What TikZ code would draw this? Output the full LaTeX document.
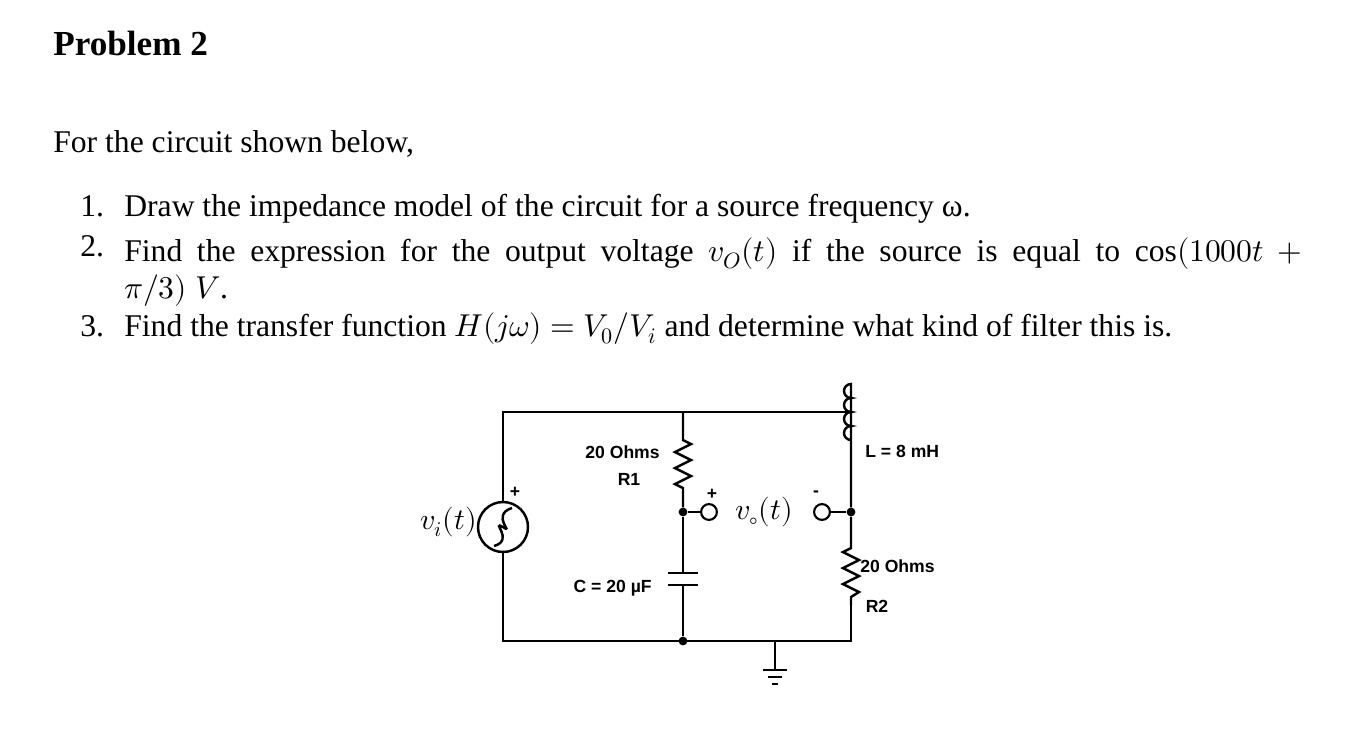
\documentclass[tikz,border=0pt]{standalone}
\usepackage{fontspec}
\setmainfont{Liberation Serif}
\newfontfamily\arialf{Liberation Sans}
\usepackage{unicode-math}
\setmathfont{Latin Modern Math}
\begin{document}
\begin{tikzpicture}[x=0.02cm,y=-0.02cm,
  txt/.style={anchor=base west,inner sep=0pt,font=\fontsize{18}{21.6}\selectfont},
  lab/.style={inner sep=0pt,font=\arialf\bfseries\fontsize{10}{12}\selectfont},
  w/.style={line width=1.4pt},
  dot/.style={circle,fill=black,inner sep=0pt,minimum size=5pt},
  term/.style={circle,draw,line width=1.2pt,fill=white,inner sep=0pt,minimum size=9pt}]
\useasboundingbox (0,0) rectangle (1352,744);
% text
\node[txt,font=\bfseries\fontsize{20}{24}\selectfont] (title) at (53,55) {Problem 2};
\node[txt] (intro) at (53,152) {For the circuit shown below,};
\node[txt] (n1) at (80,216) {1.};
\node[txt] (t1) at (124,216) {Draw the impedance model of the circuit for a source frequency ω.};
\node[txt] (n2) at (80,256) {2.};
\node[txt,anchor=north west,text width=23.55cm,align=justify] (t2) at (124,237) {Find the expression for the output voltage $v_O(t)$ if the source is equal to $\cos(1000t+\linebreak \pi/3)\ V$.};
\node[txt] (n3) at (80,336) {3.};
\node[txt] (t3) at (124,336) {Find the transfer function $H(j\omega)=V_0/V_i$ and determine what kind of filter this is.};
% circuit coordinates
\coordinate (TL) at (503,412); \coordinate (TM) at (683,412); \coordinate (TR) at (851,412);
\coordinate (BL) at (503,641); \coordinate (BM) at (683,641); \coordinate (BR) at (851,641);
\coordinate (G) at (775,641);
\node[dot] (M1) at (683,512) {}; \node[dot] (M2) at (851,512) {}; \node[dot] (BMd) at (683,641) {};
\node[term] (P1) at (709,512) {}; \node[term] (P2) at (822,512) {};
\node[circle,draw,line width=1.4pt,minimum size=50\pgflinewidth*0+1cm,inner sep=0pt] (S) at (503,527) {};
% wires
\draw[w] (S.north) -- (TL) -- (TR) -- (851,440);
\draw[w] (S.south) -- (BL) -- (BR) -- (851,605);
% R1
\draw[w] (TM) -- (683,440) -- (691,444) -- (675,452) -- (691,460) -- (675,468) -- (691,476) -- (675,484) -- (683,488) -- (M1);
% capacitor
\draw[w] (M1) -- (683,573); \draw[w] (668,573) -- (698,573); \draw[w] (668,585) -- (698,585);
\draw[w] (683,585) -- (BMd);
% output wires
\draw[w] (M1) -- (P1); \draw[w] (P2) -- (M2);
% inductor
\draw[w] (851,440) arc(90:270:7 and 7) arc(90:270:7 and 7) arc(90:270:7 and 7) arc(90:270:7 and 7) -- (M2);
% R2
\draw[w] (M2) -- (851,548) -- (843,552) -- (859,560) -- (843,568) -- (859,576) -- (843,584) -- (859,592) -- (851,597) -- (851,605);
% ground
\draw[w] (G) -- (775,670); \draw[w] (763,670) -- (787,670); \draw[w] (768,677) -- (782,677); \draw[w] (772,684) -- (778,684);
% source sine
\draw[line width=1.4pt] (512,508) .. controls (490,515) and (515,535) .. (503,527) .. controls (490,520) and (515,540) .. (494,546);
% labels
\node[lab] (plus) at (515,492) {+};
\node[inner sep=0pt,anchor=east,font=\fontsize{17}{20}\selectfont] (vi) at (477,522) {$v_i(t)$};
\node[inner sep=0pt,font=\fontsize{17}{20}\selectfont] (vo) at (764,512) {$v_{\circ}(t)$};
\node[lab] (op) at (712,494) {+};
\node[lab] (om) at (816,494) {-};
\node[lab,anchor=east] (r1a) at (660,452) {20 Ohms};
\node[lab] (r1b) at (629,479) {R1};
\node[lab,anchor=west] (la) at (865,451) {L = 8 mH};
\node[lab,anchor=west] (r2a) at (860,566) {20 Ohms};
\node[lab] (r2b) at (877,606) {R2};
\node[lab,anchor=east] (ca) at (652,588) {C = 20 µF};
\end{tikzpicture}
\end{document}
